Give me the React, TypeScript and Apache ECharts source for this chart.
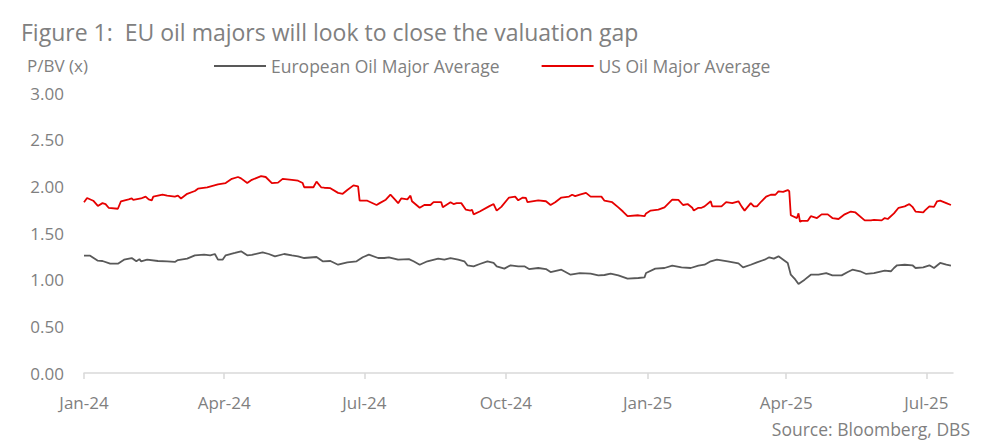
import React, { useEffect, useRef } from "react";
import * as echarts from "echarts";

const titleText = "Figure 1:  EU oil majors will look to close the valuation gap";
const yAxisTitle = "P/BV (x)";
const sourceText = "Source: Bloomberg, DBS";
const seriesNames = ["European Oil Major Average", "US Oil Major Average"];

const tickDates = ["2024-01-01", "2024-04-01", "2024-07-01", "2024-10-01", "2025-01-01", "2025-04-01", "2025-07-01"];
const tickLabels = ["Jan-24", "Apr-24", "Jul-24", "Oct-24", "Jan-25", "Apr-25", "Jul-25"];
const axisStart = "2024-01-01";
const axisEnd = "2025-07-18";

const usDates = [
  "2024-01-01","2024-01-03","2024-01-07","2024-01-10","2024-01-13","2024-01-15","2024-01-17","2024-01-23","2024-01-25","2024-01-30",
  "2024-02-01","2024-02-02","2024-02-07","2024-02-10","2024-02-12","2024-02-14","2024-02-15","2024-02-21","2024-02-24","2024-02-29",
  "2024-03-02","2024-03-04","2024-03-08","2024-03-13","2024-03-15","2024-03-21","2024-03-28","2024-04-02","2024-04-06","2024-04-10",
  "2024-04-12","2024-04-16","2024-04-19","2024-04-25","2024-04-28","2024-05-02","2024-05-06","2024-05-09","2024-05-15","2024-05-19",
  "2024-05-22","2024-05-23","2024-05-29","2024-05-31","2024-06-03","2024-06-05","2024-06-09","2024-06-14","2024-06-17","2024-06-20",
  "2024-06-24","2024-06-27","2024-06-28","2024-07-03","2024-07-09","2024-07-11","2024-07-15","2024-07-18","2024-07-21","2024-07-23",
  "2024-07-25","2024-07-29","2024-07-31","2024-08-01","2024-08-06","2024-08-09","2024-08-13","2024-08-15","2024-08-20","2024-08-21",
  "2024-08-26","2024-08-28","2024-08-30","2024-09-02","2024-09-05","2024-09-08","2024-09-09","2024-09-10","2024-09-14","2024-09-20",
  "2024-09-23","2024-09-25","2024-09-28","2024-10-03","2024-10-07","2024-10-09","2024-10-12","2024-10-14","2024-10-15","2024-10-22",
  "2024-10-27","2024-10-30","2024-11-02","2024-11-06","2024-11-11","2024-11-13","2024-11-15","2024-11-18","2024-11-22","2024-11-25",
  "2024-12-02","2024-12-04","2024-12-09","2024-12-13","2024-12-16","2024-12-19","2024-12-26","2024-12-30","2024-12-31","2025-01-03",
  "2025-01-08","2025-01-12","2025-01-17","2025-01-21","2025-01-24","2025-01-27","2025-01-30","2025-01-31","2025-02-03","2025-02-05",
  "2025-02-07","2025-02-11","2025-02-12","2025-02-18","2025-02-21","2025-02-25","2025-03-01","2025-03-03","2025-03-05","2025-03-09",
  "2025-03-11","2025-03-13","2025-03-16","2025-03-19","2025-03-22","2025-03-25","2025-03-27","2025-03-30","2025-04-02","2025-04-03",
  "2025-04-04","2025-04-08","2025-04-09","2025-04-10","2025-04-11","2025-04-15","2025-04-17","2025-04-21","2025-04-24","2025-04-28",
  "2025-05-01","2025-05-05","2025-05-09","2025-05-13","2025-05-16","2025-05-22","2025-05-26","2025-05-28","2025-06-02","2025-06-04",
  "2025-06-06","2025-06-10","2025-06-13","2025-06-17","2025-06-20","2025-06-22","2025-06-24","2025-06-29","2025-06-30","2025-07-03",
  "2025-07-06","2025-07-08","2025-07-10","2025-07-14","2025-07-17",
];
const usValues = [
  1.83,1.875,1.846,1.79,1.82,1.81,1.77,1.76,1.84,1.86,
  1.87,1.855,1.87,1.89,1.86,1.85,1.89,1.91,1.90,1.89,
  1.90,1.87,1.92,1.95,1.975,1.99,2.02,2.035,2.08,2.10,
  2.085,2.035,2.07,2.11,2.10,2.035,2.04,2.08,2.07,2.06,
  2.035,1.99,1.99,2.05,1.99,1.985,1.98,1.93,1.92,1.96,
  2.01,2.00,1.846,1.846,1.80,1.82,1.857,1.91,1.857,1.82,
  1.87,1.86,1.90,1.84,1.77,1.80,1.80,1.83,1.83,1.775,
  1.83,1.81,1.82,1.82,1.75,1.74,1.75,1.70,1.73,1.785,
  1.81,1.74,1.78,1.88,1.89,1.85,1.88,1.875,1.83,1.85,
  1.84,1.80,1.83,1.88,1.89,1.91,1.895,1.91,1.93,1.89,
  1.89,1.846,1.83,1.775,1.73,1.68,1.69,1.68,1.71,1.74,
  1.75,1.775,1.857,1.855,1.80,1.81,1.77,1.74,1.77,1.77,
  1.785,1.84,1.785,1.785,1.83,1.82,1.84,1.785,1.74,1.82,
  1.785,1.785,1.84,1.89,1.91,1.91,1.947,1.94,1.96,1.947,
  1.69,1.66,1.71,1.62,1.63,1.63,1.68,1.66,1.70,1.70,
  1.66,1.65,1.70,1.73,1.72,1.635,1.635,1.64,1.635,1.66,
  1.65,1.71,1.77,1.785,1.81,1.78,1.73,1.72,1.74,1.785,
  1.78,1.84,1.846,1.82,1.80,
];

const euDates = [
  "2024-01-01","2024-01-05","2024-01-10","2024-01-13","2024-01-18","2024-01-23","2024-01-27","2024-02-01","2024-02-04","2024-02-06",
  "2024-02-07","2024-02-11","2024-02-18","2024-02-24","2024-02-29","2024-03-02","2024-03-08","2024-03-13","2024-03-19","2024-03-23",
  "2024-03-26","2024-03-28","2024-03-31","2024-04-02","2024-04-08","2024-04-12","2024-04-16","2024-04-19","2024-04-26","2024-04-30",
  "2024-05-04","2024-05-10","2024-05-15","2024-05-19","2024-05-23","2024-05-31","2024-06-04","2024-06-09","2024-06-14","2024-06-20",
  "2024-06-26","2024-06-30","2024-07-04","2024-07-10","2024-07-14","2024-07-17","2024-07-23","2024-07-30","2024-08-02","2024-08-06",
  "2024-08-11","2024-08-18","2024-08-22","2024-08-26","2024-08-31","2024-09-04","2024-09-06","2024-09-10","2024-09-14","2024-09-19",
  "2024-09-23","2024-09-25","2024-09-30","2024-10-04","2024-10-09","2024-10-13","2024-10-16","2024-10-22","2024-10-27","2024-10-30",
  "2024-11-06","2024-11-12","2024-11-18","2024-11-25","2024-11-30","2024-12-04","2024-12-08","2024-12-13","2024-12-19","2024-12-26",
  "2024-12-30","2024-12-31","2025-01-06","2025-01-12","2025-01-17","2025-01-23","2025-01-29","2025-02-03","2025-02-07","2025-02-11",
  "2025-02-15","2025-02-22","2025-03-01","2025-03-04","2025-03-09","2025-03-13","2025-03-18","2025-03-21","2025-03-24","2025-03-27",
  "2025-03-31","2025-04-02","2025-04-04","2025-04-07","2025-04-09","2025-04-13","2025-04-17","2025-04-22","2025-04-27","2025-05-01",
  "2025-05-07","2025-05-11","2025-05-14","2025-05-19","2025-05-23","2025-05-28","2025-06-04","2025-06-08","2025-06-10","2025-06-12",
  "2025-06-17","2025-06-22","2025-06-24","2025-06-29","2025-07-03","2025-07-06","2025-07-10","2025-07-14","2025-07-17",
];
const euValues = [
  1.257,1.257,1.203,1.20,1.171,1.171,1.214,1.232,1.197,1.22,
  1.197,1.214,1.20,1.197,1.19,1.21,1.225,1.261,1.268,1.26,
  1.275,1.214,1.214,1.261,1.286,1.304,1.261,1.265,1.293,1.275,
  1.25,1.275,1.26,1.25,1.232,1.243,1.197,1.20,1.16,1.186,
  1.197,1.24,1.268,1.232,1.232,1.24,1.214,1.22,1.197,1.16,
  1.197,1.225,1.214,1.232,1.214,1.197,1.154,1.143,1.168,1.197,
  1.18,1.143,1.118,1.154,1.143,1.143,1.114,1.125,1.114,1.082,
  1.107,1.053,1.071,1.064,1.046,1.05,1.064,1.046,1.011,1.018,
  1.025,1.071,1.118,1.125,1.15,1.132,1.125,1.15,1.16,1.197,
  1.214,1.197,1.175,1.132,1.16,1.186,1.214,1.24,1.225,1.25,
  1.203,1.179,1.053,1.0,0.954,1.0,1.053,1.053,1.071,1.046,
  1.046,1.082,1.107,1.09,1.061,1.07,1.096,1.09,1.125,1.154,
  1.16,1.154,1.125,1.132,1.154,1.125,1.179,1.16,1.15,
];

const toTs = (s: string) => {
  const [y, m, d] = s.split("-").map(Number);
  return Date.UTC(y, m - 1, d);
};

const GRAY_TEXT = "#7f7f7f";
const FONT = "'Open Sans', 'Noto Sans', sans-serif";

export default function App() {
  const ref = useRef<HTMLDivElement>(null);
  useEffect(() => {
    if (!ref.current) return;
    const chart = echarts.init(ref.current, null, { renderer: "svg" });
    const tickTs = tickDates.map(toTs);
    const option: any = {
      animation: false,
      backgroundColor: "#ffffff",
      textStyle: { fontFamily: FONT },
      title: {
        text: titleText,
        left: 16,
        top: 15,
        textStyle: { fontSize: 23, fontWeight: "normal", color: "#808080", fontFamily: FONT },
      },
      legend: {
        left: 214,
        top: 57,
        padding: 0,
        itemGap: 42,
        itemWidth: 52,
        itemHeight: 2,
        icon: "rect",
        textStyle: { fontSize: 17.5, color: GRAY_TEXT, fontFamily: FONT },
        data: seriesNames,
      },
      graphic: [
        {
          type: "text",
          left: 27,
          top: 57,
          style: { text: yAxisTitle, fontSize: 17, fill: GRAY_TEXT, fontFamily: FONT },
        },
        {
          type: "text",
          right: 15,
          top: 420,
          style: { text: sourceText, fontSize: 17.5, fill: GRAY_TEXT, fontFamily: FONT },
        },
      ],
      grid: { left: 84, right: 32, top: 93, bottom: 74, containLabel: false },
      xAxis: {
        type: "value",
        min: toTs(axisStart),
        max: toTs(axisEnd) + 8 * 3600 * 1000,
        axisLine: { show: true, lineStyle: { color: "#d9d9d9", width: 1.5 } },
        axisTick: { show: true, customValues: tickTs, length: 6, lineStyle: { color: "#d9d9d9", width: 1.5 } },
        axisLabel: {
          customValues: tickTs,
          margin: 21,
          fontSize: 17,
          color: GRAY_TEXT,
          fontFamily: FONT,
          formatter: (v: number) => {
            const i = tickTs.findIndex((t) => Math.abs(t - v) < 43200000);
            return i >= 0 ? tickLabels[i] : "";
          },
        },
        splitLine: { show: false },
      },
      yAxis: {
        type: "value",
        min: 0,
        max: 3,
        interval: 0.5,
        axisLine: { show: false },
        axisTick: { show: false },
        splitLine: { show: false },
        axisLabel: {
          margin: 20,
          fontSize: 17,
          color: GRAY_TEXT,
          fontFamily: FONT,
          formatter: (v: number) => v.toFixed(2),
        },
      },
      series: [
        {
          name: seriesNames[0],
          type: "line",
          showSymbol: false,
          symbol: "none",
          color: "#595959",
          lineStyle: { width: 1.8, color: "#595959" },
          data: euDates.map((d, i) => [toTs(d), euValues[i]]),
        },
        {
          name: seriesNames[1],
          type: "line",
          showSymbol: false,
          symbol: "none",
          color: "#e60000",
          lineStyle: { width: 1.8, color: "#e60000" },
          data: usDates.map((d, i) => [toTs(d), usValues[i]]),
        },
      ],
    };
    chart.setOption(option);
    return () => chart.dispose();
  }, []);
  return (
    <div
      ref={ref}
      style={{ position: "fixed", left: 0, top: 0, width: 985, height: 447, background: "#fff" }}
    />
  );
}
